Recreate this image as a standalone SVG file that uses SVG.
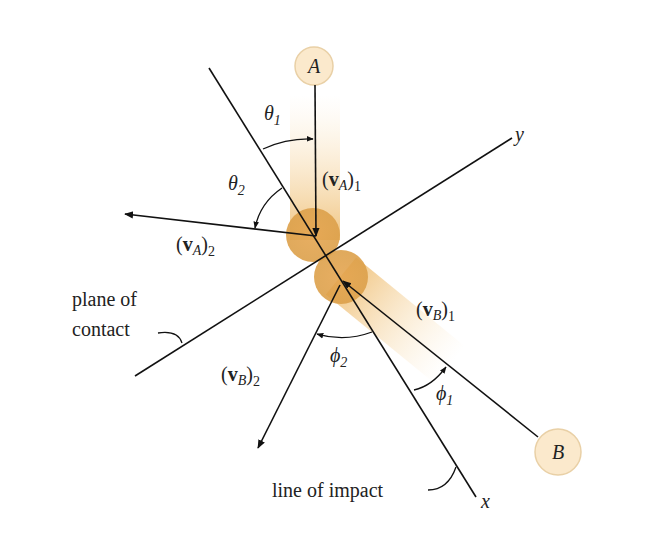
<svg xmlns="http://www.w3.org/2000/svg" width="662" height="548" viewBox="0 0 662 548">
<defs>
<marker id="ah" viewBox="0 0 10 10" refX="9" refY="5" markerWidth="9" markerHeight="9" markerUnits="userSpaceOnUse" orient="auto"><path d="M0,1 L10,5 L0,9 z" fill="#111"/></marker>
<marker id="sm" viewBox="0 0 10 10" refX="9" refY="5" markerWidth="7" markerHeight="7" markerUnits="userSpaceOnUse" orient="auto"><path d="M0,1 L10,5 L0,9 z" fill="#111"/></marker>
<linearGradient id="gA" x1="0" y1="1" x2="0" y2="0"><stop offset="0" stop-color="#f0c480"/><stop offset="1" stop-color="#fbe8c8" stop-opacity="0"/></linearGradient>
<linearGradient id="gB" x1="341" y1="276" x2="450" y2="365" gradientUnits="userSpaceOnUse"><stop offset="0" stop-color="#f0c480"/><stop offset="1" stop-color="#fbe8c8" stop-opacity="0"/></linearGradient>
<radialGradient id="ball" cx="0.5" cy="0.5" r="0.5"><stop offset="0" stop-color="#e5a550"/><stop offset="1" stop-color="#dca04a"/></radialGradient>
</defs>
<style>
.ln{stroke:#111;stroke-width:1.6;fill:none}
.arc{stroke:#111;stroke-width:1.3;fill:none}
.t{font-family:"Liberation Serif",serif;font-size:20px;fill:#222}
.i{font-style:italic}
.b{font-weight:bold}
.lbl{fill:#fbe9cc;stroke:#e9d0a6;stroke-width:1.5}
</style>
<rect width="662" height="548" fill="#fff"/>
<g id="glow">
<rect x="290" y="95" width="50" height="145" fill="url(#gA)"/>
<path d="M324,257 L358,295 L470,385 L430,420 Z" fill="none"/>
<line x1="341" y1="276" x2="450" y2="365" stroke="url(#gB)" stroke-width="48" stroke-linecap="butt"/>
</g>
<g id="ballA"><circle cx="313" cy="235" r="27" fill="url(#ball)" opacity="0.9"/></g>
<g id="ballB"><circle cx="341" cy="277" r="27" fill="url(#ball)" opacity="0.9"/></g>
<g id="A"><circle cx="314" cy="66" r="19" class="lbl"/><text x="314" y="73" text-anchor="middle" class="t i">A</text></g>
<g id="B"><circle cx="558" cy="452" r="23" class="lbl"/><text x="558" y="459" text-anchor="middle" class="t i">B</text></g>
<g id="connectors">
<line x1="209" y1="68" x2="476" y2="497" class="ln"/>
<line x1="135" y1="376" x2="512" y2="138" class="ln"/>
<line x1="315" y1="85" x2="316" y2="236" class="ln" marker-end="url(#ah)"/>
<line x1="316" y1="236" x2="125" y2="214" class="ln" marker-end="url(#ah)"/>
<line x1="538" y1="437" x2="343" y2="281" class="ln" marker-end="url(#ah)"/>
<line x1="340" y1="285" x2="258" y2="448" class="ln" marker-end="url(#ah)"/>
<path d="M263,149 Q287,138 313,139" class="arc" marker-end="url(#sm)"/>
<path d="M282,188 Q260,203 255,228" class="arc" marker-end="url(#sm)"/>
<path d="M372,332 Q345,342 317,334" class="arc" marker-end="url(#sm)"/>
<path d="M414,390 Q432,386 446,367" class="arc" marker-end="url(#sm)"/>
<path d="M428,490 Q448,490 456,467" class="arc"/>
<path d="M158,333 Q178,330 182,343" class="arc"/>
</g>
<g id="labels">
<text x="264" y="120" class="t i">θ<tspan font-size="14" dy="5">1</tspan></text>
<text x="228" y="190" class="t i">θ<tspan font-size="14" dy="5">2</tspan></text>
<text x="322" y="186" class="t">(<tspan class="b">v</tspan><tspan class="i" font-size="14" dy="4">A</tspan><tspan dy="-4">)</tspan><tspan font-size="14" dy="5">1</tspan></text>
<text x="176" y="251" class="t">(<tspan class="b">v</tspan><tspan class="i" font-size="14" dy="4">A</tspan><tspan dy="-4">)</tspan><tspan font-size="14" dy="5">2</tspan></text>
<text x="416" y="316" class="t">(<tspan class="b">v</tspan><tspan class="i" font-size="14" dy="4">B</tspan><tspan dy="-4">)</tspan><tspan font-size="14" dy="5">1</tspan></text>
<text x="221" y="381" class="t">(<tspan class="b">v</tspan><tspan class="i" font-size="14" dy="4">B</tspan><tspan dy="-4">)</tspan><tspan font-size="14" dy="5">2</tspan></text>
<text x="330" y="362" class="t i">ϕ<tspan font-size="14" dy="5">2</tspan></text>
<text x="436" y="400" class="t i">ϕ<tspan font-size="14" dy="5">1</tspan></text>
<text x="515" y="141" class="t i">y</text>
<text x="481" y="508" class="t i">x</text>
<text x="72" y="306" class="t">plane of</text>
<text x="72" y="336" class="t">contact</text>
<text x="272" y="497" class="t">line of impact</text>
</g>
</svg>
